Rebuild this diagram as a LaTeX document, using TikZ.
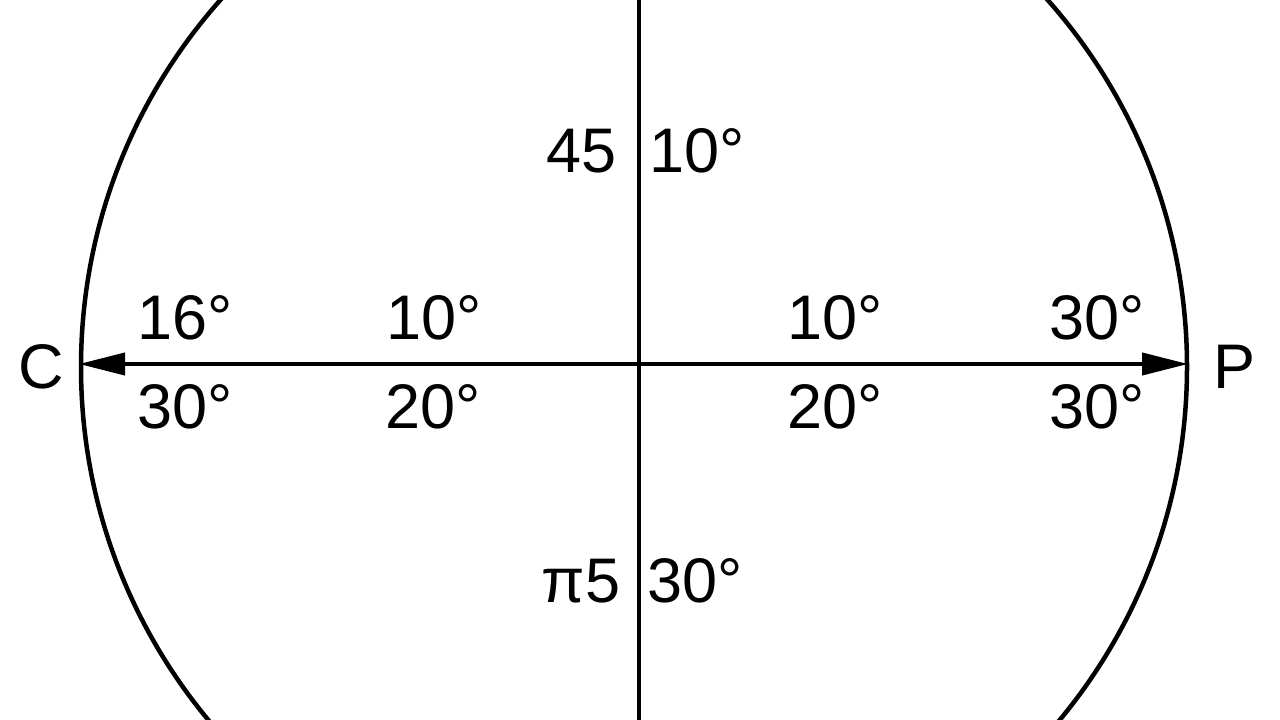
\documentclass[tikz,border=0pt]{standalone}
\usepackage{fontspec}
\setmainfont{Liberation Sans}
\usetikzlibrary{arrows.meta}
\begin{document}
\begin{tikzpicture}[x=1pt,y=-1pt,
  lbl/.style={anchor=base,inner sep=0pt,font=\fontsize{63}{75}\selectfont},
  axis/.style={line width=4pt},
  tip/.style={-{Triangle[length=46pt,width=22pt]}}]
\useasboundingbox (0,0) rectangle (1280,720);
\fill[white] (0,0) rectangle (1280,720);
\begin{scope}
\clip (0,0) rectangle (1280,720);
\draw[line width=4.5pt] (634,367) circle[radius=553];
\coordinate (top) at (639,-10);
\coordinate (bot) at (639,730);
\draw[axis] (top) -- (bot);
\end{scope}
\coordinate (o) at (639,364);
\coordinate (la) at (79,364);
\coordinate (ra) at (1188,364);
\draw[axis,tip] (o) -- (la);
\draw[axis,tip] (o) -- (ra);
\node[lbl] (c) at (41,388) {C};
\node[lbl] (p) at (1234,388) {P};
\node[lbl] (a1) at (185,339) {16°};
\node[lbl] (a2) at (185,428) {30°};
\node[lbl] (a3) at (434,339) {10°};
\node[lbl] (a4) at (433,428) {20°};
\node[lbl] (a5) at (835,339) {10°};
\node[lbl] (a6) at (835,428) {20°};
\node[lbl] (a7) at (1097,339) {30°};
\node[lbl] (a8) at (1097,428) {30°};
\node[lbl] (t1) at (582,172) {45};
\node[lbl] (t2) at (697,172) {10°};
\node[lbl] (b1) at (581,602) {π5};
\node[lbl] (b2) at (695,602) {30°};
\end{tikzpicture}
\end{document}
